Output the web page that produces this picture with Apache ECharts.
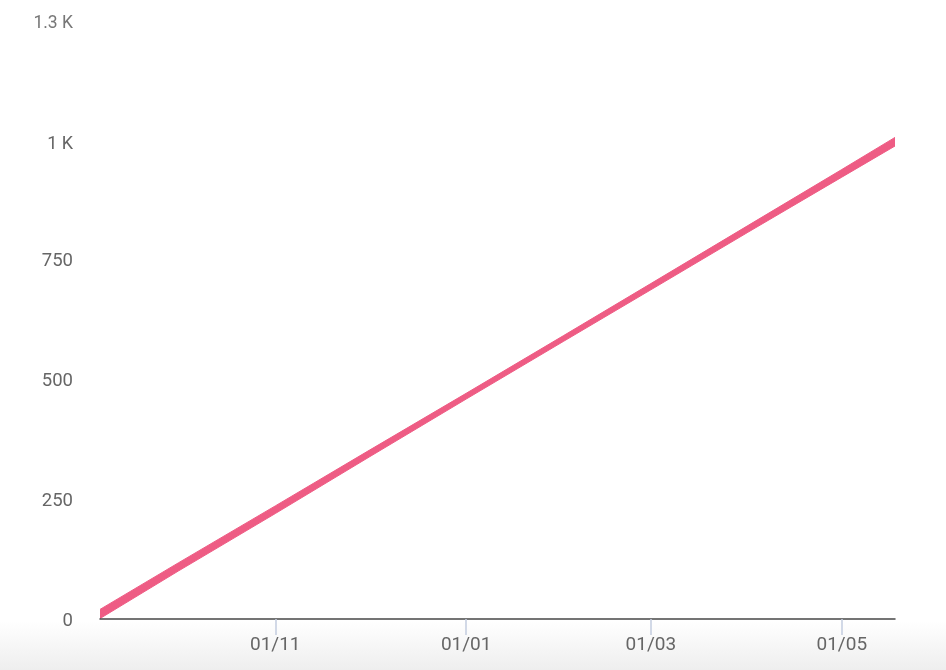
<!DOCTYPE html>
<html>
<head>
<meta charset="utf-8">
<script src="https://cdn.jsdelivr.net/npm/echarts@6/dist/echarts.min.js"></script>
<style>
html,body{margin:0;padding:0;background:#fff;}
#chart{width:946px;height:670px;}
</style>
</head>
<body>
<div id="chart"></div>
<script>
// Dates of the readings
const dates = ['2022-09-06','2022-10-01','2022-11-01','2022-12-01','2023-01-01','2023-02-01','2023-03-01','2023-04-01','2023-05-01','2023-05-18'];
// Lower and upper edges of the band
const lowerValues = [1, 100, 220, 338, 459, 579, 687, 807, 922, 987];
const upperValues = [20, 117, 236, 352, 471, 591, 700, 821, 938, 1005];
// X axis tick dates
const xTickDates = ['2022-11-01','2023-01-01','2023-03-01','2023-05-01'];
// Y axis range
const yMin = 0, yMax = 1250, yStep = 250;
const xStart = '2022-09-06', xEnd = '2023-05-18';

const toTs = s => new Date(s + 'T00:00:00').getTime();
const lowerData = dates.map((d, i) => [toTs(d), lowerValues[i]]);
const upperData = dates.map((d, i) => [toTs(d), upperValues[i]]);
const tickTs = xTickDates.map(toTs);
const pad = n => (n < 10 ? '0' : '') + n;
const fmtDate = v => { const d = new Date(v); return pad(d.getDate()) + '/' + pad(d.getMonth() + 1); };

const chart = echarts.init(document.getElementById('chart'), null, {renderer: 'canvas'});
const fontFam = 'Roboto, "Noto Sans", sans-serif';
const pink = '#ee5c84';
chart.setOption({
  animation: false,
  backgroundColor: '#ffffff',
  graphic: [{
    type: 'rect', z: -10, silent: true,
    shape: {x: 0, y: 621, width: 946, height: 49},
    style: {fill: new echarts.graphic.LinearGradient(0, 0, 0, 1, [
      {offset: 0, color: '#ffffff'}, {offset: 1, color: '#eeeeee'}])}
  }],
  grid: {left: 100, right: 51, top: 20, bottom: 51, containLabel: false},
  xAxis: {
    type: 'value',
    z: 10,
    min: toTs(xStart), max: toTs(xEnd),
    splitLine: {show: false},
    axisLine: {show: true, lineStyle: {color: '#474747', width: 1.5}},
    axisTick: {show: true, customValues: tickTs, length: 16, lineStyle: {color: '#c3cde0', width: 1.5}},
    axisLabel: {
      customValues: tickTs,
      margin: 17,
      color: '#666666', fontSize: 19, fontFamily: fontFam,
      formatter: v => fmtDate(v)
    }
  },
  yAxis: {
    type: 'value',
    min: yMin, max: yMax, interval: yStep,
    splitLine: {show: false},
    axisLine: {show: false},
    axisTick: {show: false},
    axisLabel: {
      margin: 27,
      color: '#666666', fontSize: 18.5, fontFamily: fontFam,
      padding: [4, 0, 0, 0],
      formatter: v => {
        if (v >= yMax) return '{top|' + (+(v / 1000).toFixed(1)) + ' K}';
        if (v >= 1000) return '{k|' + (+(v / 1000).toFixed(1)) + ' K}';
        return String(v);
      },
      rich: {
        top: {fontSize: 17.5, color: '#777777', fontFamily: fontFam, padding: [4, 0, 0, 0]},
        k: {fontSize: 18, color: '#666666', fontFamily: fontFam, padding: [6, 0, 0, 0]}
      }
    }
  },
  series: [
    {
      type: 'line', name: 'upper', data: upperData, z: 2,
      symbol: 'none', showSymbol: false,
      lineStyle: {width: 1, color: pink},
      areaStyle: {color: pink, opacity: 1, origin: 'start'},
      silent: true
    },
    {
      type: 'line', name: 'lower', data: lowerData, z: 3,
      symbol: 'none', showSymbol: false,
      lineStyle: {width: 1, color: pink},
      areaStyle: {color: '#ffffff', opacity: 1, origin: 'start'},
      silent: true
    }
  ]
});
</script>
</body>
</html>
